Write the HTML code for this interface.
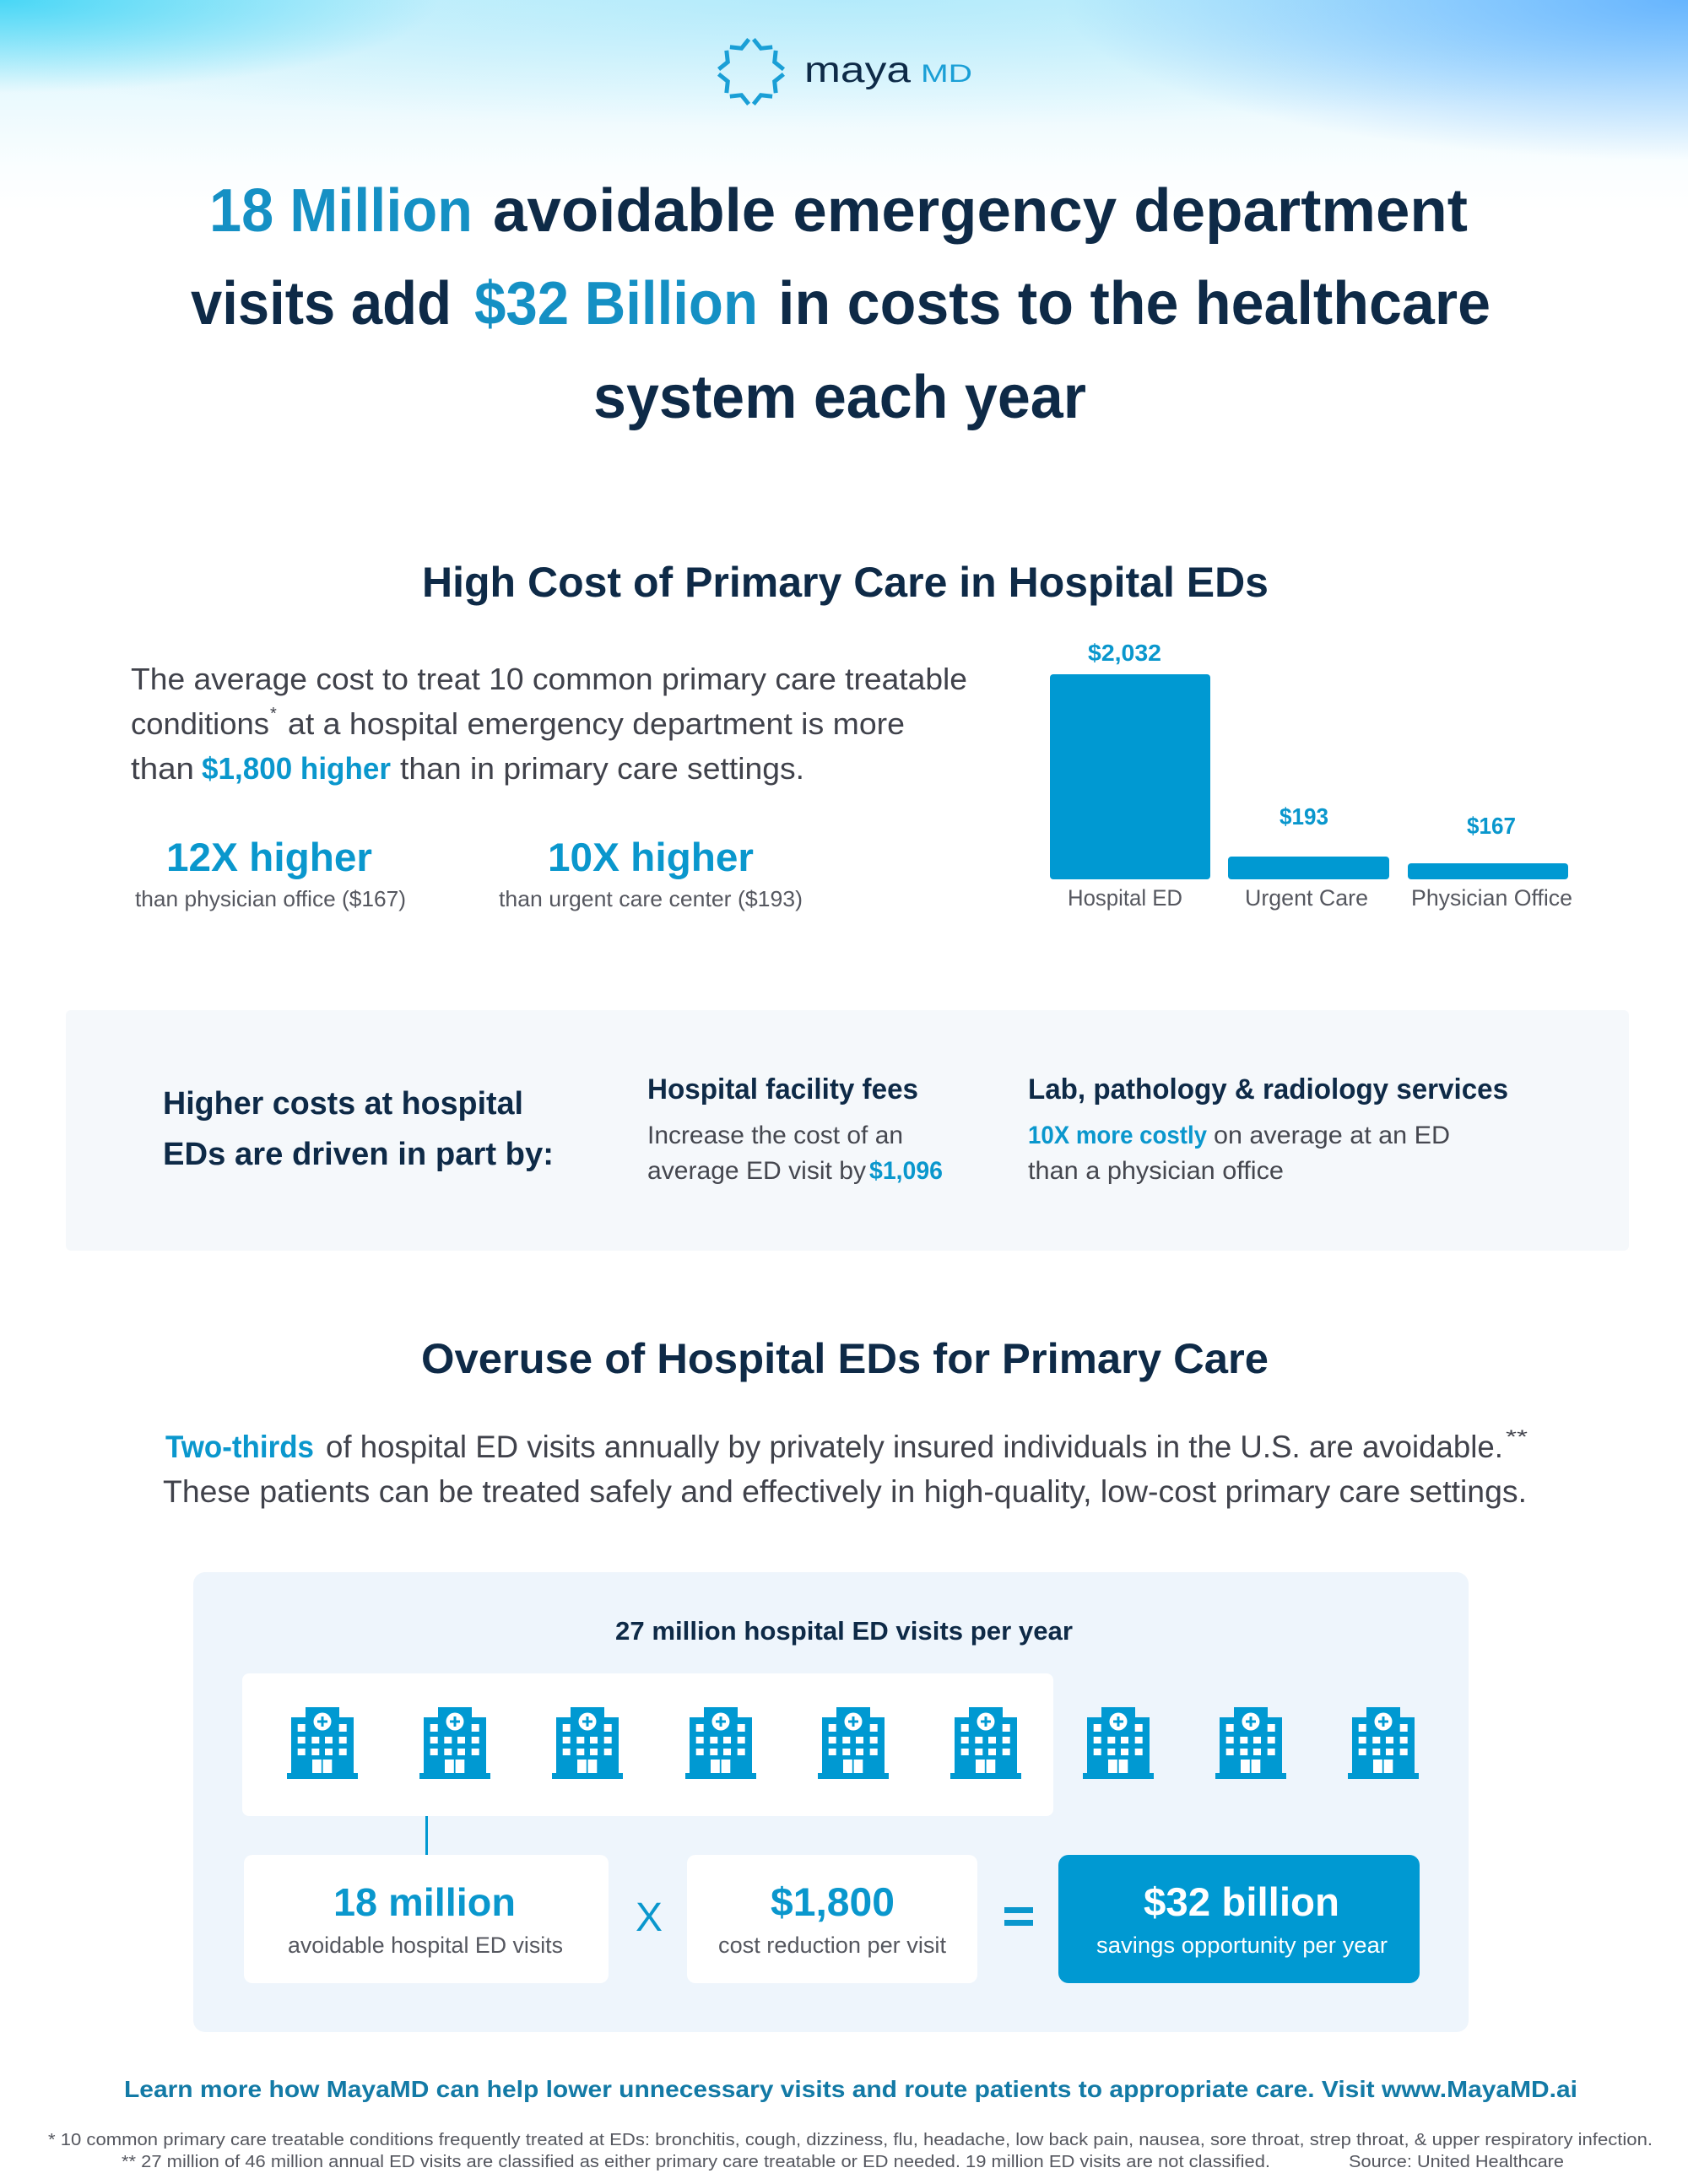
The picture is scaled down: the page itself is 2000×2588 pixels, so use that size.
<!DOCTYPE html>
<html>
<head>
<meta charset="utf-8">
<style>
  html,body{margin:0;padding:0;}
  body{
    width:2000px;height:2588px;position:relative;overflow:hidden;
    background:
      radial-gradient(ellipse 520px 110px at 0px 0px, rgba(50,210,245,0.85), rgba(50,210,245,0) 100%),
      radial-gradient(ellipse 740px 190px at 2000px 0px, rgba(85,170,255,0.85), rgba(85,170,255,0) 100%),
      radial-gradient(ellipse 1300px 150px at 1000px 0px, rgba(150,225,250,0.5), rgba(150,225,250,0) 100%),
      linear-gradient(to bottom, #d2f4fc 0px, #e4f8fd 80px, #f1fbfe 150px, #fafeff 200px, #ffffff 250px);
  }
  svg{position:absolute;left:0;top:0;display:block;}
  text{font-family:"Liberation Sans", Arial, sans-serif;}
</style>
</head>
<body>
<svg width="2000" height="2588" viewBox="0 0 2000 2588" xmlns="http://www.w3.org/2000/svg">

  <!-- Logo star -->
  <g transform="translate(890,85)" fill="none" stroke="#1a9fd6" stroke-width="5" stroke-linejoin="miter">
    <path d="M2.9,-38.4 L11.5,-27.7 L25.2,-29.2" transform="rotate(0)"/>
    <path d="M2.9,-38.4 L11.5,-27.7 L25.2,-29.2" transform="rotate(45)"/>
    <path d="M2.9,-38.4 L11.5,-27.7 L25.2,-29.2" transform="rotate(90)"/>
    <path d="M2.9,-38.4 L11.5,-27.7 L25.2,-29.2" transform="rotate(135)"/>
    <path d="M2.9,-38.4 L11.5,-27.7 L25.2,-29.2" transform="rotate(180)"/>
    <path d="M2.9,-38.4 L11.5,-27.7 L25.2,-29.2" transform="rotate(225)"/>
    <path d="M2.9,-38.4 L11.5,-27.7 L25.2,-29.2" transform="rotate(270)"/>
    <path d="M2.9,-38.4 L11.5,-27.7 L25.2,-29.2" transform="rotate(315)"/>
  </g>
  <text x="953" y="97" font-size="43" fill="#0e2a47" textLength="126" lengthAdjust="spacingAndGlyphs">maya</text>
  <text x="1091" y="97" font-size="30" fill="#1a9fd6" textLength="61" lengthAdjust="spacingAndGlyphs">MD</text>

  <!-- Title -->
  <text x="248" y="274" font-size="72" font-weight="700" fill="#1590c4" textLength="312" lengthAdjust="spacingAndGlyphs">18 Million</text>
  <text x="584" y="274" font-size="72" font-weight="700" fill="#0e2a47" textLength="1155" lengthAdjust="spacingAndGlyphs">avoidable emergency department</text>
  <text x="226" y="384" font-size="72" font-weight="700" fill="#0e2a47" textLength="309" lengthAdjust="spacingAndGlyphs">visits add</text>
  <text x="562" y="384" font-size="72" font-weight="700" fill="#1590c4" textLength="336" lengthAdjust="spacingAndGlyphs">$32 Billion</text>
  <text x="922" y="384" font-size="72" font-weight="700" fill="#0e2a47" textLength="844" lengthAdjust="spacingAndGlyphs">in costs to the healthcare</text>
  <text x="703" y="495" font-size="72" font-weight="700" fill="#0e2a47" textLength="584" lengthAdjust="spacingAndGlyphs">system each year</text>

  <!-- Section 1 heading -->
  <text x="500" y="707" font-size="50" font-weight="700" fill="#0e2a47" textLength="1003" lengthAdjust="spacingAndGlyphs">High Cost of Primary Care in Hospital EDs</text>

  <!-- Paragraph -->
  <text x="155" y="817" font-size="36" fill="#40424b" textLength="991" lengthAdjust="spacingAndGlyphs">The average cost to treat 10 common primary care treatable</text>
  <text x="155" y="870" font-size="36" fill="#40424b" textLength="164" lengthAdjust="spacingAndGlyphs">conditions</text>
  <text x="320" y="852" font-size="20" fill="#40424b">*</text>
  <text x="341" y="870" font-size="36" fill="#40424b" textLength="731" lengthAdjust="spacingAndGlyphs">at a hospital emergency department is more</text>
  <text x="155" y="923" font-size="36" fill="#40424b" textLength="75" lengthAdjust="spacingAndGlyphs">than</text>
  <text x="239" y="923" font-size="36" font-weight="700" fill="#0a97cd" textLength="224" lengthAdjust="spacingAndGlyphs">$1,800 higher</text>
  <text x="474" y="923" font-size="36" fill="#40424b" textLength="479" lengthAdjust="spacingAndGlyphs">than in primary care settings.</text>

  <!-- 12X / 10X -->
  <text x="197" y="1032" font-size="47" font-weight="700" fill="#0a97cd" textLength="244" lengthAdjust="spacingAndGlyphs">12X higher</text>
  <text x="160" y="1074" font-size="26" fill="#55575f" textLength="321" lengthAdjust="spacingAndGlyphs">than physician office ($167)</text>
  <text x="649" y="1032" font-size="47" font-weight="700" fill="#0a97cd" textLength="244" lengthAdjust="spacingAndGlyphs">10X higher</text>
  <text x="591" y="1074" font-size="26" fill="#55575f" textLength="360" lengthAdjust="spacingAndGlyphs">than urgent care center ($193)</text>

  <!-- Bar chart -->
  <rect x="1244" y="799" width="190" height="243" rx="4" fill="#0099d2"/>
  <rect x="1455" y="1015" width="191" height="27" rx="4" fill="#0099d2"/>
  <rect x="1668" y="1023" width="190" height="19" rx="4" fill="#0099d2"/>
  <text x="1289" y="783" font-size="28" font-weight="700" fill="#0a97cd" textLength="87" lengthAdjust="spacingAndGlyphs">$2,032</text>
  <text x="1516" y="977" font-size="28" font-weight="700" fill="#0a97cd" textLength="58" lengthAdjust="spacingAndGlyphs">$193</text>
  <text x="1738" y="988" font-size="28" font-weight="700" fill="#0a97cd" textLength="58" lengthAdjust="spacingAndGlyphs">$167</text>
  <text x="1265" y="1073" font-size="27" fill="#55575f" textLength="136" lengthAdjust="spacingAndGlyphs">Hospital ED</text>
  <text x="1475" y="1073" font-size="27" fill="#55575f" textLength="146" lengthAdjust="spacingAndGlyphs">Urgent Care</text>
  <text x="1672" y="1073" font-size="27" fill="#55575f" textLength="191" lengthAdjust="spacingAndGlyphs">Physician Office</text>

  <!-- Gray box -->
  <rect x="78" y="1197" width="1852" height="285" rx="6" fill="#f5f8fb"/>
  <text x="193" y="1320" font-size="38" font-weight="700" fill="#0e2a47" textLength="427" lengthAdjust="spacingAndGlyphs">Higher costs at hospital</text>
  <text x="193" y="1380" font-size="38" font-weight="700" fill="#0e2a47" textLength="463" lengthAdjust="spacingAndGlyphs">EDs are driven in part by:</text>
  <text x="767" y="1302" font-size="34" font-weight="700" fill="#0e2a47" textLength="321" lengthAdjust="spacingAndGlyphs">Hospital facility fees</text>
  <text x="767" y="1355" font-size="30" fill="#45474f" textLength="303" lengthAdjust="spacingAndGlyphs">Increase the cost of an</text>
  <text x="767" y="1397" font-size="30" fill="#45474f" textLength="259" lengthAdjust="spacingAndGlyphs">average ED visit by</text>
  <text x="1030" y="1397" font-size="30" font-weight="700" fill="#0a97cd" textLength="87" lengthAdjust="spacingAndGlyphs">$1,096</text>
  <text x="1218" y="1302" font-size="34" font-weight="700" fill="#0e2a47" textLength="569" lengthAdjust="spacingAndGlyphs">Lab, pathology &amp; radiology services</text>
  <text x="1218" y="1355" font-size="30" font-weight="700" fill="#0a97cd" textLength="212" lengthAdjust="spacingAndGlyphs">10X more costly</text>
  <text x="1438" y="1355" font-size="30" fill="#45474f" textLength="280" lengthAdjust="spacingAndGlyphs">on average at an ED</text>
  <text x="1218" y="1397" font-size="30" fill="#45474f" textLength="303" lengthAdjust="spacingAndGlyphs">than a physician office</text>

  <!-- Section 2 heading -->
  <text x="499" y="1627" font-size="50" font-weight="700" fill="#0e2a47" textLength="1004" lengthAdjust="spacingAndGlyphs">Overuse of Hospital EDs for Primary Care</text>
  <text x="196" y="1727" font-size="37" font-weight="700" fill="#0a97cd" textLength="176" lengthAdjust="spacingAndGlyphs">Two-thirds</text>
  <text x="386" y="1727" font-size="37" fill="#40424b" textLength="1395" lengthAdjust="spacingAndGlyphs">of hospital ED visits annually by privately insured individuals in the U.S. are avoidable.</text>
  <text x="1784" y="1710" font-size="22" fill="#40424b" textLength="26" lengthAdjust="spacingAndGlyphs">**</text>
  <text x="193" y="1780" font-size="37" fill="#40424b" textLength="1616" lengthAdjust="spacingAndGlyphs">These patients can be treated safely and effectively in high-quality, low-cost primary care settings.</text>

  <!-- Big light box -->
  <rect x="229" y="1863" width="1511" height="545" rx="14" fill="#eef5fc"/>
  <text x="729" y="1943" font-size="31" font-weight="700" fill="#0e2a47" textLength="542" lengthAdjust="spacingAndGlyphs">27 million hospital ED visits per year</text>
  <rect x="287" y="1983" width="961" height="169" rx="8" fill="#ffffff"/>

  <!-- Hospital icons -->
  <g fill="#0099d2">
    <g transform="translate(340,2023)">
      <rect x="22" y="0" width="40" height="14"/><rect x="5" y="12" width="74" height="68"/><rect x="0" y="78" width="84" height="7"/>
      <circle cx="42" cy="17" r="10.5" fill="#fff"/><rect x="40.5" y="11" width="3" height="12"/><rect x="36" y="15.5" width="12" height="3"/>
      <g fill="#fff"><rect x="12.7" y="20" width="9" height="9"/><rect x="61.7" y="20" width="9" height="9"/>
      <rect x="12.7" y="35" width="9" height="8"/><rect x="29.3" y="35" width="9" height="8"/><rect x="45" y="35" width="9" height="8"/><rect x="61.7" y="35" width="9" height="8"/>
      <rect x="12.7" y="49" width="9" height="8"/><rect x="29.3" y="49" width="9" height="8"/><rect x="45" y="49" width="9" height="8"/><rect x="61.7" y="49" width="9" height="8"/>
      <rect x="30" y="62" width="23.3" height="16"/></g><rect x="40.8" y="62" width="1.8" height="16"/>
    </g>
    <g transform="translate(497,2023)">
      <rect x="22" y="0" width="40" height="14"/><rect x="5" y="12" width="74" height="68"/><rect x="0" y="78" width="84" height="7"/>
      <circle cx="42" cy="17" r="10.5" fill="#fff"/><rect x="40.5" y="11" width="3" height="12"/><rect x="36" y="15.5" width="12" height="3"/>
      <g fill="#fff"><rect x="12.7" y="20" width="9" height="9"/><rect x="61.7" y="20" width="9" height="9"/>
      <rect x="12.7" y="35" width="9" height="8"/><rect x="29.3" y="35" width="9" height="8"/><rect x="45" y="35" width="9" height="8"/><rect x="61.7" y="35" width="9" height="8"/>
      <rect x="12.7" y="49" width="9" height="8"/><rect x="29.3" y="49" width="9" height="8"/><rect x="45" y="49" width="9" height="8"/><rect x="61.7" y="49" width="9" height="8"/>
      <rect x="30" y="62" width="23.3" height="16"/></g><rect x="40.8" y="62" width="1.8" height="16"/>
    </g>
    <g transform="translate(654,2023)">
      <rect x="22" y="0" width="40" height="14"/><rect x="5" y="12" width="74" height="68"/><rect x="0" y="78" width="84" height="7"/>
      <circle cx="42" cy="17" r="10.5" fill="#fff"/><rect x="40.5" y="11" width="3" height="12"/><rect x="36" y="15.5" width="12" height="3"/>
      <g fill="#fff"><rect x="12.7" y="20" width="9" height="9"/><rect x="61.7" y="20" width="9" height="9"/>
      <rect x="12.7" y="35" width="9" height="8"/><rect x="29.3" y="35" width="9" height="8"/><rect x="45" y="35" width="9" height="8"/><rect x="61.7" y="35" width="9" height="8"/>
      <rect x="12.7" y="49" width="9" height="8"/><rect x="29.3" y="49" width="9" height="8"/><rect x="45" y="49" width="9" height="8"/><rect x="61.7" y="49" width="9" height="8"/>
      <rect x="30" y="62" width="23.3" height="16"/></g><rect x="40.8" y="62" width="1.8" height="16"/>
    </g>
    <g transform="translate(812,2023)">
      <rect x="22" y="0" width="40" height="14"/><rect x="5" y="12" width="74" height="68"/><rect x="0" y="78" width="84" height="7"/>
      <circle cx="42" cy="17" r="10.5" fill="#fff"/><rect x="40.5" y="11" width="3" height="12"/><rect x="36" y="15.5" width="12" height="3"/>
      <g fill="#fff"><rect x="12.7" y="20" width="9" height="9"/><rect x="61.7" y="20" width="9" height="9"/>
      <rect x="12.7" y="35" width="9" height="8"/><rect x="29.3" y="35" width="9" height="8"/><rect x="45" y="35" width="9" height="8"/><rect x="61.7" y="35" width="9" height="8"/>
      <rect x="12.7" y="49" width="9" height="8"/><rect x="29.3" y="49" width="9" height="8"/><rect x="45" y="49" width="9" height="8"/><rect x="61.7" y="49" width="9" height="8"/>
      <rect x="30" y="62" width="23.3" height="16"/></g><rect x="40.8" y="62" width="1.8" height="16"/>
    </g>
    <g transform="translate(969,2023)">
      <rect x="22" y="0" width="40" height="14"/><rect x="5" y="12" width="74" height="68"/><rect x="0" y="78" width="84" height="7"/>
      <circle cx="42" cy="17" r="10.5" fill="#fff"/><rect x="40.5" y="11" width="3" height="12"/><rect x="36" y="15.5" width="12" height="3"/>
      <g fill="#fff"><rect x="12.7" y="20" width="9" height="9"/><rect x="61.7" y="20" width="9" height="9"/>
      <rect x="12.7" y="35" width="9" height="8"/><rect x="29.3" y="35" width="9" height="8"/><rect x="45" y="35" width="9" height="8"/><rect x="61.7" y="35" width="9" height="8"/>
      <rect x="12.7" y="49" width="9" height="8"/><rect x="29.3" y="49" width="9" height="8"/><rect x="45" y="49" width="9" height="8"/><rect x="61.7" y="49" width="9" height="8"/>
      <rect x="30" y="62" width="23.3" height="16"/></g><rect x="40.8" y="62" width="1.8" height="16"/>
    </g>
    <g transform="translate(1126,2023)">
      <rect x="22" y="0" width="40" height="14"/><rect x="5" y="12" width="74" height="68"/><rect x="0" y="78" width="84" height="7"/>
      <circle cx="42" cy="17" r="10.5" fill="#fff"/><rect x="40.5" y="11" width="3" height="12"/><rect x="36" y="15.5" width="12" height="3"/>
      <g fill="#fff"><rect x="12.7" y="20" width="9" height="9"/><rect x="61.7" y="20" width="9" height="9"/>
      <rect x="12.7" y="35" width="9" height="8"/><rect x="29.3" y="35" width="9" height="8"/><rect x="45" y="35" width="9" height="8"/><rect x="61.7" y="35" width="9" height="8"/>
      <rect x="12.7" y="49" width="9" height="8"/><rect x="29.3" y="49" width="9" height="8"/><rect x="45" y="49" width="9" height="8"/><rect x="61.7" y="49" width="9" height="8"/>
      <rect x="30" y="62" width="23.3" height="16"/></g><rect x="40.8" y="62" width="1.8" height="16"/>
    </g>
    <g transform="translate(1283,2023)">
      <rect x="22" y="0" width="40" height="14"/><rect x="5" y="12" width="74" height="68"/><rect x="0" y="78" width="84" height="7"/>
      <circle cx="42" cy="17" r="10.5" fill="#fff"/><rect x="40.5" y="11" width="3" height="12"/><rect x="36" y="15.5" width="12" height="3"/>
      <g fill="#fff"><rect x="12.7" y="20" width="9" height="9"/><rect x="61.7" y="20" width="9" height="9"/>
      <rect x="12.7" y="35" width="9" height="8"/><rect x="29.3" y="35" width="9" height="8"/><rect x="45" y="35" width="9" height="8"/><rect x="61.7" y="35" width="9" height="8"/>
      <rect x="12.7" y="49" width="9" height="8"/><rect x="29.3" y="49" width="9" height="8"/><rect x="45" y="49" width="9" height="8"/><rect x="61.7" y="49" width="9" height="8"/>
      <rect x="30" y="62" width="23.3" height="16"/></g><rect x="40.8" y="62" width="1.8" height="16"/>
    </g>
    <g transform="translate(1440,2023)">
      <rect x="22" y="0" width="40" height="14"/><rect x="5" y="12" width="74" height="68"/><rect x="0" y="78" width="84" height="7"/>
      <circle cx="42" cy="17" r="10.5" fill="#fff"/><rect x="40.5" y="11" width="3" height="12"/><rect x="36" y="15.5" width="12" height="3"/>
      <g fill="#fff"><rect x="12.7" y="20" width="9" height="9"/><rect x="61.7" y="20" width="9" height="9"/>
      <rect x="12.7" y="35" width="9" height="8"/><rect x="29.3" y="35" width="9" height="8"/><rect x="45" y="35" width="9" height="8"/><rect x="61.7" y="35" width="9" height="8"/>
      <rect x="12.7" y="49" width="9" height="8"/><rect x="29.3" y="49" width="9" height="8"/><rect x="45" y="49" width="9" height="8"/><rect x="61.7" y="49" width="9" height="8"/>
      <rect x="30" y="62" width="23.3" height="16"/></g><rect x="40.8" y="62" width="1.8" height="16"/>
    </g>
    <g transform="translate(1597,2023)">
      <rect x="22" y="0" width="40" height="14"/><rect x="5" y="12" width="74" height="68"/><rect x="0" y="78" width="84" height="7"/>
      <circle cx="42" cy="17" r="10.5" fill="#fff"/><rect x="40.5" y="11" width="3" height="12"/><rect x="36" y="15.5" width="12" height="3"/>
      <g fill="#fff"><rect x="12.7" y="20" width="9" height="9"/><rect x="61.7" y="20" width="9" height="9"/>
      <rect x="12.7" y="35" width="9" height="8"/><rect x="29.3" y="35" width="9" height="8"/><rect x="45" y="35" width="9" height="8"/><rect x="61.7" y="35" width="9" height="8"/>
      <rect x="12.7" y="49" width="9" height="8"/><rect x="29.3" y="49" width="9" height="8"/><rect x="45" y="49" width="9" height="8"/><rect x="61.7" y="49" width="9" height="8"/>
      <rect x="30" y="62" width="23.3" height="16"/></g><rect x="40.8" y="62" width="1.8" height="16"/>
    </g>
  </g>

  <!-- connector -->
  <rect x="504" y="2152" width="3" height="46" fill="#0099d2"/>

  <!-- Bottom boxes -->
  <rect x="289" y="2198" width="432" height="152" rx="10" fill="#ffffff"/>
  <text x="395" y="2270" font-size="46" font-weight="700" fill="#0a97cd" textLength="216" lengthAdjust="spacingAndGlyphs">18 million</text>
  <text x="341" y="2314" font-size="26.5" fill="#55575f" textLength="326" lengthAdjust="spacingAndGlyphs">avoidable hospital ED visits</text>

  <text x="753" y="2288" font-size="48" fill="#0a97cd" textLength="32" lengthAdjust="spacingAndGlyphs">X</text>

  <rect x="814" y="2198" width="344" height="152" rx="10" fill="#ffffff"/>
  <text x="913" y="2270" font-size="47" font-weight="700" fill="#0a97cd" textLength="147" lengthAdjust="spacingAndGlyphs">$1,800</text>
  <text x="851" y="2314" font-size="26.5" fill="#55575f" textLength="270" lengthAdjust="spacingAndGlyphs">cost reduction per visit</text>

  <rect x="1190" y="2260" width="34" height="7" fill="#0a97cd"/>
  <rect x="1190" y="2275" width="34" height="7" fill="#0a97cd"/>

  <rect x="1254" y="2198" width="428" height="152" rx="12" fill="#0099d2"/>
  <text x="1355" y="2270" font-size="47" font-weight="700" fill="#ffffff" textLength="232" lengthAdjust="spacingAndGlyphs">$32 billion</text>
  <text x="1299" y="2314" font-size="26.5" fill="#ffffff" textLength="345" lengthAdjust="spacingAndGlyphs">savings opportunity per year</text>

  <!-- Footer -->
  <text x="147" y="2485" font-size="28" font-weight="700" fill="#137aa6" textLength="1722" lengthAdjust="spacingAndGlyphs">Learn more how MayaMD can help lower unnecessary visits and route patients to appropriate care. Visit www.MayaMD.ai</text>
  <text x="57" y="2542" font-size="20" fill="#55575f" textLength="1901" lengthAdjust="spacingAndGlyphs">* 10 common primary care treatable conditions frequently treated at EDs: bronchitis, cough, dizziness, flu, headache, low back pain, nausea, sore throat, strep throat, &amp; upper respiratory infection.</text>
  <text x="144" y="2568" font-size="20" fill="#55575f" textLength="1361" lengthAdjust="spacingAndGlyphs">** 27 million of 46 million annual ED visits are classified as either primary care treatable or ED needed. 19 million ED visits are not classified.</text>
  <text x="1598" y="2568" font-size="20" fill="#55575f" textLength="255" lengthAdjust="spacingAndGlyphs">Source: United Healthcare</text>
</svg>
</body>
</html>
